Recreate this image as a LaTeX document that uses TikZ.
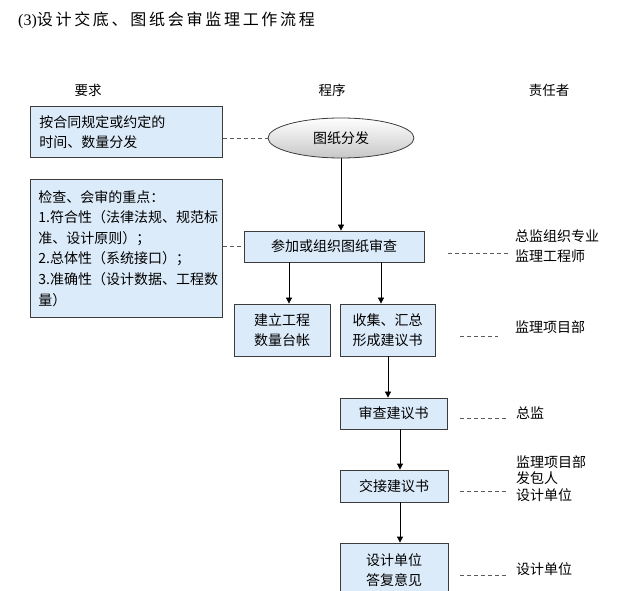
\documentclass[tikz,border=0pt]{standalone}
\usepackage{fontspec}
\setmainfont{Liberation Serif}
\newfontfamily\cjk{Noto Sans CJK SC}
\newfontfamily\cjktitle[LetterSpace=17]{Noto Sans CJK SC}
\usetikzlibrary{arrows.meta,shapes.geometric}
\definecolor{boxfill}{RGB}{220,235,250}
\definecolor{linegray}{RGB}{60,60,60}
\definecolor{dashgray}{RGB}{90,90,90}
\tikzset{
  boxnode/.style={draw=linegray, fill=boxfill, line width=0.8pt, inner sep=0pt, align=center, font=\cjk\fontsize{14}{20}\selectfont},
  leftbox/.style={draw=linegray, fill=boxfill, line width=0.8pt, inner xsep=9pt, inner ysep=0pt, align=left, font=\cjk\fontsize{14}{20.6}\selectfont, anchor=north west},
  ovalnode/.style={ellipse, draw=linegray, line width=0.8pt, top color=white, bottom color=black!22, inner sep=0pt, font=\cjk\fontsize{14}{20}\selectfont},
  lbl/.style={font=\cjk\fontsize{14}{20}\selectfont, align=left, anchor=west, inner sep=0pt},
  hdr/.style={font=\cjk\fontsize{13.5}{16}\selectfont, inner sep=0pt},
  flow/.style={draw=black, line width=0.8pt, -{Triangle[length=6pt,width=6pt]}},
  dline/.style={draw=dashgray, line width=0.8pt, dash pattern=on 4pt off 3pt}
}
\begin{document}
\begin{tikzpicture}[x=1pt,y=-1pt]
\useasboundingbox (0,0) rectangle (625,591);
\clip (0,0) rectangle (625,591);
% title
\node[anchor=west, inner sep=0pt, font=\fontsize{16}{18}\selectfont] (title) at (18,20) {(3)\cjktitle 设计交底、图纸会审监理工作流程};
% headers
\node[hdr] (h1) at (88,90) {要求};
\node[hdr] (h2) at (332,90) {程序};
\node[hdr] (h3) at (549,90) {责任者};
% left boxes
\node[leftbox, minimum width=192pt, minimum height=51pt, text width=174pt, font=\cjk\fontsize{14}{20}\selectfont] (b1) at (30,106) {按合同规定或约定的\\时间、数量分发};
\node[leftbox, minimum width=192pt, minimum height=138pt, text width=176pt, inner xsep=8pt] (b2) at (30,179) {检查、会审的重点：\\1.符合性（法律法规、规范标\\准、设计原则）；\\2.总体性（系统接口）；\\3.准确性（设计数据、工程数\\量）};
% process
\node[ovalnode, minimum width=146pt, minimum height=40pt] (e) at (341,138) {图纸分发};
\node[boxnode, minimum width=180pt, minimum height=31pt] (p1) at (334,246.5) {参加或组织图纸审查};
\node[boxnode, minimum width=96pt, minimum height=52pt] (p2a) at (282,330) {建立工程\\数量台帐};
\node[boxnode, minimum width=95pt, minimum height=52pt] (p2b) at (387.5,330) {收集、汇总\\形成建议书};
\node[boxnode, minimum width=107pt, minimum height=31pt] (p3) at (393.5,413.5) {审查建议书};
\node[boxnode, minimum width=108pt, minimum height=32pt] (p4) at (394,486) {交接建议书};
\node[boxnode, minimum width=108pt, minimum height=54pt] (p5) at (394,570) {设计单位\\答复意见};
% right labels
\node[lbl] (r1) at (515,246) {总监组织专业\\监理工程师};
\node[lbl] (r2) at (515,327) {监理项目部};
\node[lbl] (r3) at (516,413) {总监};
\node[lbl, font=\cjk\fontsize{14}{16.5}\selectfont] (r4) at (516,478.5) {监理项目部\\发包人\\设计单位};
\node[lbl] (r5) at (516,569) {设计单位};
% arrows
\draw[flow] (e.south) -- (e.south |- p1.north);
\draw[flow] (p1.south -| 289,0) -- (p2a.north -| 289,0);
\draw[flow] (p1.south -| 381,0) -- (p2b.north -| 381,0);
\draw[flow] (p2b.south -| 388,0) -- (p3.north -| 388,0);
\draw[flow] (p3.south -| 400,0) -- (p4.north -| 400,0);
\draw[flow] (p4.south -| 400,0) -- (p5.north -| 400,0);
% dashed links
\draw[dline] (b1.east |- e.west) -- (e.west);
\draw[dline] (b2.east |- p1.west) -- (p1.west);
\coordinate (d1a) at (448,253); \coordinate (d1b) at (508,253);
\draw[dline] (d1a) -- (d1b);
\coordinate (d2a) at (460,336); \coordinate (d2b) at (498,336);
\draw[dline] (d2a) -- (d2b);
\coordinate (d3a) at (460,418); \coordinate (d3b) at (508,418);
\draw[dline] (d3a) -- (d3b);
\coordinate (d4a) at (460,491); \coordinate (d4b) at (508,491);
\draw[dline] (d4a) -- (d4b);
\coordinate (d5a) at (460,575); \coordinate (d5b) at (508,575);
\draw[dline] (d5a) -- (d5b);
\end{tikzpicture}
\end{document}
